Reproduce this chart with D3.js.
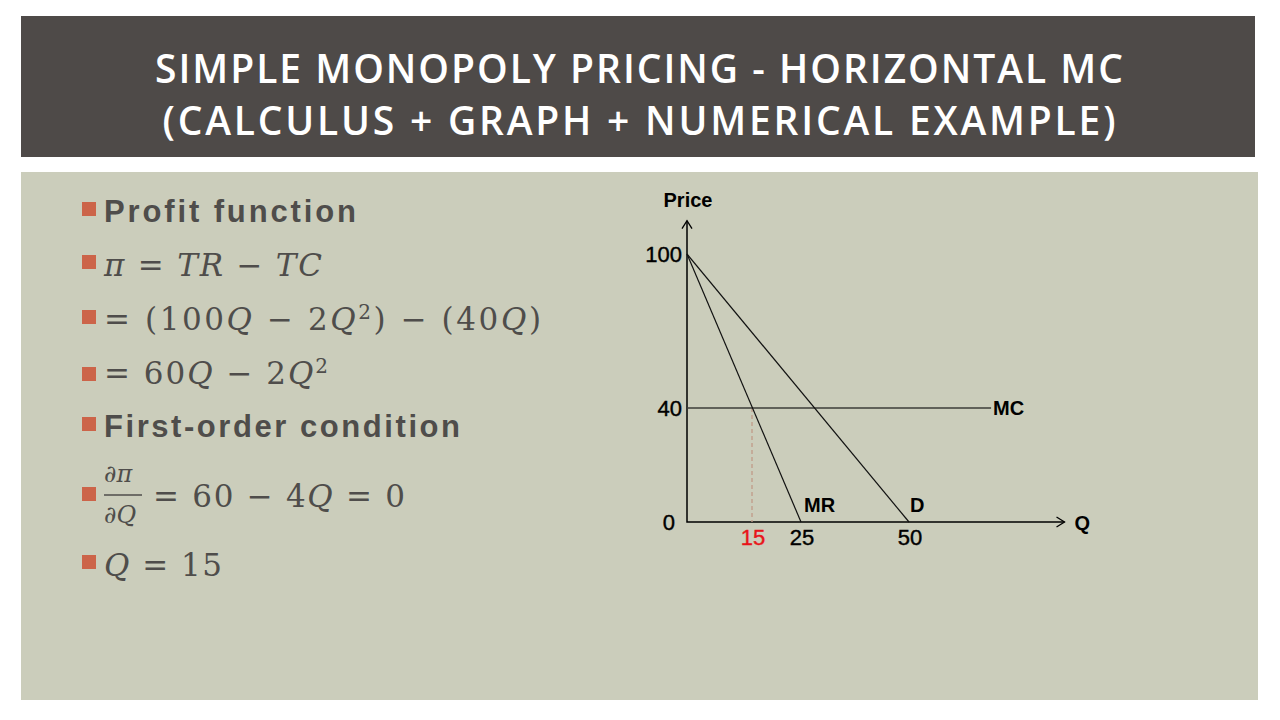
<!DOCTYPE html>
<html>
<head>
<meta charset="utf-8">
<script src="https://cdn.jsdelivr.net/npm/d3@7"></script>
<style>
  body { margin: 0; background: #fff; }
</style>
</head>
<body>
<div id="slide"></div>
<script>
// slide text
const titleLines = ["SIMPLE MONOPOLY PRICING - HORIZONTAL MC", "(CALCULUS + GRAPH + NUMERICAL EXAMPLE)"];

// curves, as (Q, P) end points
const demand = [{q: 0, p: 100}, {q: 50, p: 0}];
const marginalRevenue = [{q: 0, p: 100}, {q: 25, p: 0}];
const marginalCost = [{q: 0, p: 40}, {q: 69, p: 40}];
const optimum = {q: 15, p: 40};

const xTicks = [15, 25, 50];
const yTicks = [0, 40, 100];
const xAxisEnd = 86;
const yAxisEnd = 113;

// left hand bullet list; i = italic piece, sup = superscript
const bullets = [
  {kind: "head", text: "Profit function"},
  {kind: "math", parts: [{t: "π", i: true}, {t: " = "}, {t: "TR", i: true}, {t: " − "}, {t: "TC", i: true}]},
  {kind: "math", parts: [{t: "= (100"}, {t: "Q", i: true}, {t: " − 2"}, {t: "Q", i: true}, {t: "2", sup: true}, {t: ") − (40"}, {t: "Q", i: true}, {t: ")"}]},
  {kind: "math", parts: [{t: "= 60"}, {t: "Q", i: true}, {t: " − 2"}, {t: "Q", i: true}, {t: "2", sup: true}]},
  {kind: "head", text: "First-order condition"},
  {kind: "frac", num: "∂π", den: "∂Q", parts: [{t: "= 60 − 4"}, {t: "Q", i: true}, {t: " = 0"}]},
  {kind: "math", parts: [{t: "Q", i: true}, {t: " = 15"}]}
];

const W = 1280, H = 720;
const svg = d3.select("#slide").append("svg")
  .attr("width", W)
  .attr("height", H);

svg.append("rect").attr("width", W).attr("height", H).attr("fill", "#fff");

/// header band ///
svg.append("rect")
  .attr("x", 21).attr("y", 16)
  .attr("width", 1234).attr("height", 141)
  .attr("fill", "#4e4a48");

svg.selectAll(".title")
  .data(titleLines)
  .join("text")
    .attr("class", "title")
    .attr("x", 639)
    .attr("y", (d, i) => 83 + i * 52)
    .attr("text-anchor", "middle")
    .attr("textLength", (d, i) => i === 0 ? 968 : 953)
    .attr("lengthAdjust", "spacing")
    .style("font-family", "'Open Sans', sans-serif")
    .style("font-weight", 600)
    .style("font-size", "39px")
    .style("fill", "#fff")
    .text(d => d);

/// content panel ///
svg.append("rect")
  .attr("x", 21).attr("y", 172)
  .attr("width", 1237).attr("height", 528)
  .attr("fill", "#cbcdbb");

/// bullet list ///
const rowBaseline = [222, 276, 330, 384, 437, 507, 576];
const rowWidth = [252, 218, 437, 224, 356, 252, 118];
const bulletTop = [202, 255, 310, 367, 417, 487, 555];
const textColor = "#4f4d4b";

const list = svg.append("g");

bullets.forEach((b, i) => {
  list.append("rect")
    .attr("x", 82).attr("y", bulletTop[i])
    .attr("width", 14).attr("height", 14)
    .attr("fill", "#cc6449");

  if (b.kind === "head") {
    list.append("text")
      .attr("x", 104).attr("y", rowBaseline[i])
      .attr("textLength", rowWidth[i])
      .attr("lengthAdjust", "spacing")
      .style("font-family", "'Liberation Sans', Arial, sans-serif")
      .style("font-weight", "bold")
      .style("font-size", "31px")
      .style("fill", textColor)
      .text(b.text);
    return;
  }

  let x0 = 104;
  if (b.kind === "frac") {
    [[b.num, 482], [b.den, 523]].forEach(([s, yy]) => {
      list.append("text").attr("x", 104).attr("y", yy)
        .style("font-family", "'DejaVu Serif', serif")
        .style("font-style", "italic")
        .style("font-size", "24px")
        .style("fill", textColor)
        .text(s);
    });
    list.append("line")
      .attr("x1", 104).attr("x2", 142).attr("y1", 495).attr("y2", 495)
      .attr("stroke", textColor).attr("stroke-width", 1.6);
    x0 = 153;
  }

  const t = list.append("text")
    .attr("x", x0).attr("y", rowBaseline[i])
    .attr("textLength", rowWidth[i])
    .attr("lengthAdjust", "spacing")
    .style("font-family", "'DejaVu Serif', serif")
    .style("font-size", "31px")
    .style("fill", textColor)
    .attr("xml:space", "preserve");

  b.parts.forEach(p => {
    const s = t.append("tspan").text(p.t);
    if (p.i) s.style("font-style", "italic");
    if (p.sup) s.style("font-size", "20px").attr("baseline-shift", "55%");
  });
});

/// graph ///
// the original sketch is not drawn to scale, so the scales run through the marked stops
const x = d3.scaleLinear().domain([0, 15, 25, 50]).range([687, 752, 801, 909]);
const y = d3.scaleLinear().domain([0, 40, 100]).range([522, 408, 254]);

const graph = svg.append("g")
  .style("font-family", "'Liberation Sans', Arial, sans-serif")
  .style("fill", "#000");

const line = d3.line().x(d => x(d.q)).y(d => y(d.p));

// axes with open arrow heads
graph.append("path")
  .attr("d", line([{q: 0, p: yAxisEnd}, {q: 0, p: 0}, {q: xAxisEnd, p: 0}]))
  .attr("fill", "none").attr("stroke", "#000").attr("stroke-width", 1.5);
graph.append("path")
  .attr("d", `M${x(0) - 5},${y(yAxisEnd) + 8}L${x(0)},${y(yAxisEnd)}L${x(0) + 5},${y(yAxisEnd) + 8}`)
  .attr("fill", "none").attr("stroke", "#000").attr("stroke-width", 1.3);
graph.append("path")
  .attr("d", `M${x(xAxisEnd) - 8},${y(0) - 5}L${x(xAxisEnd)},${y(0)}L${x(xAxisEnd) - 8},${y(0) + 5}`)
  .attr("fill", "none").attr("stroke", "#000").attr("stroke-width", 1.3);

// dashed drop line from MR = MC
graph.append("path")
  .attr("d", line([optimum, {q: optimum.q, p: 0}]))
  .attr("fill", "none")
  .attr("stroke", "#c09a88")
  .attr("stroke-width", 1.3)
  .attr("stroke-dasharray", "4,3");

graph.append("path")
  .attr("d", line(marginalCost))
  .attr("fill", "none").attr("stroke", "#3c3d38").attr("stroke-width", 1.6);

[marginalRevenue, demand].forEach(c => {
  graph.append("path")
    .attr("d", line(c))
    .attr("fill", "none").attr("stroke", "#111").attr("stroke-width", 1.2);
});

// tick labels
graph.selectAll(".ytick")
  .data(yTicks)
  .join("text")
    .attr("class", "ytick")
    .attr("x", d => d === 0 ? x(0) - 12 : x(0) - 5)
    .attr("y", d => y(d) + 8)
    .attr("text-anchor", "end")
    .style("font-size", "22px")
    .style("stroke", "#000")
    .style("stroke-width", 0.4)
    .text(d => d);

graph.selectAll(".xtick")
  .data(xTicks)
  .join("text")
    .attr("class", "xtick")
    .attr("x", d => x(d) + 1)
    .attr("y", y(0) + 23)
    .attr("text-anchor", "middle")
    .style("font-size", "22px")
    .style("fill", d => d === optimum.q ? "#e8141a" : "#000")
    .style("stroke", d => d === optimum.q ? "#e8141a" : "#000")
    .style("stroke-width", 0.4)
    .text(d => d);

// curve and axis names
const names = [
  {text: "Price", q: 0, p: yAxisEnd, dx: 1, dy: -14, anchor: "middle"},
  {text: "Q", q: xAxisEnd, p: 0, dx: 10, dy: 8, anchor: "start"},
  {text: "MC", q: marginalCost[1].q, p: 40, dx: 2, dy: 7, anchor: "start"},
  {text: "MR", q: marginalRevenue[1].q, p: 0, dx: 3, dy: -10, anchor: "start"},
  {text: "D", q: demand[1].q, p: 0, dx: 1, dy: -10, anchor: "start"}
];

graph.selectAll(".name")
  .data(names)
  .join("text")
    .attr("class", "name")
    .attr("x", d => x(d.q) + d.dx)
    .attr("y", d => y(d.p) + d.dy)
    .attr("text-anchor", d => d.anchor)
    .style("font-size", "20px")
    .style("font-weight", "bold")
    .text(d => d.text);
</script>
</body>
</html>
